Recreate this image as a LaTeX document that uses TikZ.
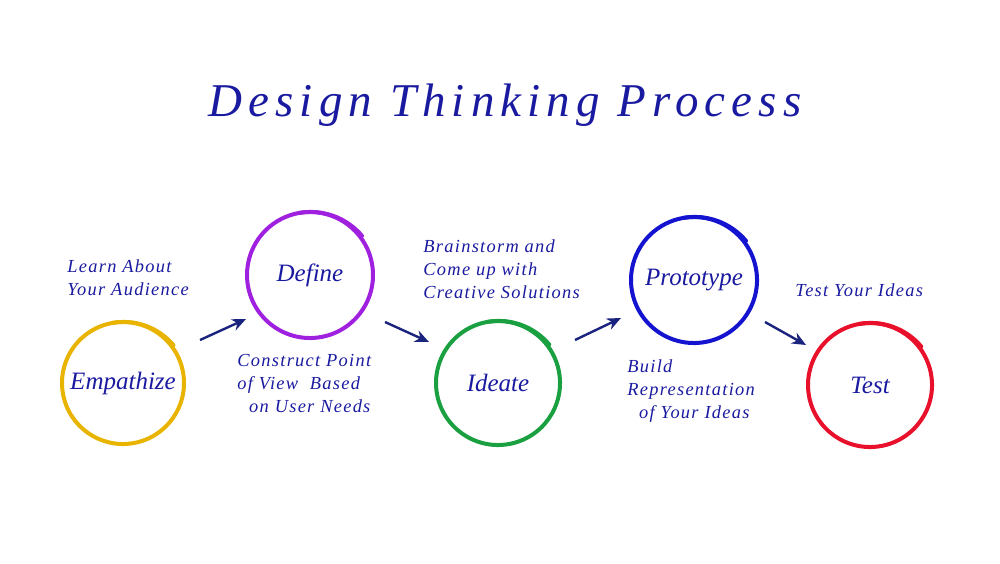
\documentclass[tikz,border=0pt]{standalone}
\usepackage{fontspec}
\setmainfont{Liberation Serif}
\usetikzlibrary{arrows.meta}
\definecolor{txt}{HTML}{1A1AA0}
\definecolor{arr}{HTML}{1A237E}
\definecolor{cemp}{HTML}{E8B400}
\definecolor{cdef}{HTML}{A020E0}
\definecolor{cide}{HTML}{1AA040}
\definecolor{cpro}{HTML}{1414D0}
\definecolor{ctes}{HTML}{E8102A}
\begin{document}
\begin{tikzpicture}[x=0.5pt,y=-0.5pt,
  ring/.style={line width=2pt,line cap=round},
  inlab/.style={font=\itshape\fontsize{12.5}{15}\selectfont,text=txt},
  side/.style={font=\itshape\fontsize{9.2}{11.5}\selectfont\addfontfeature{LetterSpace=7},text=txt,align=left,anchor=north west,inner sep=0pt},
  flow/.style={draw=arr,line width=1.2pt,-{Stealth[length=7pt,width=6pt]}}]
\path[use as bounding box] (0,0) rectangle (1000,563);
\node[font=\itshape\fontsize{23.5}{28}\selectfont\addfontfeature{LetterSpace=13},text=txt] (title) at (505,105) {Design Thinking Process};
\foreach \n/\x/\y/\r/\c/\t in {emp/123/383/61/cemp/Empathize, def/310/275/63/cdef/Define, ide/498/383/62/cide/Ideate, pro/694/280/63/cpro/Prototype, tes/870/385/62/ctes/Test}{
  \node[inlab] (\n) at (\x,\y) {\t};
  \draw[ring,draw=\c] (\x,\y) ++(-100:\r) arc[start angle=-100, end angle=265, radius=\r];
  \draw[ring,draw=\c] (\x,\y) ++(-100:\r) arc[start angle=-100, end angle=-40, radius=\r+4];
}
\coordinate (a1) at (200,340); \coordinate (b1) at (246,319);
\coordinate (a2) at (385,322); \coordinate (b2) at (429,342);
\coordinate (a3) at (575,340); \coordinate (b3) at (621,318);
\coordinate (a4) at (765,322); \coordinate (b4) at (806,345);
\draw[flow] (a1) -- (b1);
\draw[flow] (a2) -- (b2);
\draw[flow] (a3) -- (b3);
\draw[flow] (a4) -- (b4);
\node[side] (l1) at (67,259) {Learn About\\Your Audience};
\node[side] (l2) at (237,354) {Construct Point\\of View~~Based\\\ \ on User Needs};
\node[side] (l3) at (423,239) {Brainstorm and\\Come up with\\Creative Solutions};
\node[side] (l4) at (627,359) {Build\\Representation\\\ \ of Your Ideas};
\node[side] (l5) at (795,283) {Test Your Ideas};
\end{tikzpicture}
\end{document}
